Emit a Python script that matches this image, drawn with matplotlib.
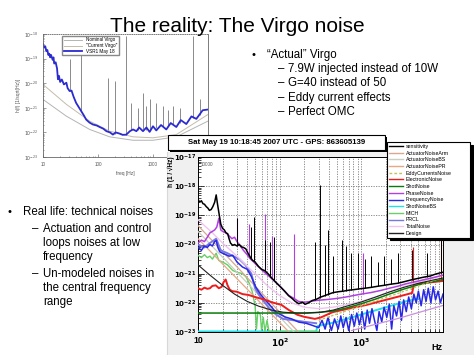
import numpy as np
import matplotlib
matplotlib.use("Agg")
import matplotlib.pyplot as plt
from matplotlib.lines import Line2D
from matplotlib.patches import Rectangle

plt.rcParams['font.family'] = ['Liberation Sans', 'DejaVu Sans']

W, H = 474, 355

# ---------------- small plot (top left), values as (freq Hz, log10 h)
small_nominal = [(10, -20.66), (26.6, -21.34), (70.5, -21.88), (163, -22.18),
                 (433, -22.32), (1000, -22.32), (2656, -22.18), (10000, -21.54)]
small_current = [(10, -20.05), (26.6, -20.86), (70.5, -21.54), (163, -21.95),
                 (433, -22.18), (1000, -22.22), (2656, -22.09), (10000, -21.27)]
small_vsr1 = [(10, -18.4), (10.5, -18.55), (11, -18.5), (11.5, -18.7), (12, -18.65),
              (12.5, -18.85), (13, -18.8), (13.5, -18.95), (14, -18.85), (15, -19.05),
              (15.5, -18.95), (16, -19.2), (17, -19.15), (18, -19.4), (18.7, -19.84),
              (19.5, -19.7), (20.5, -19.95), (22, -19.85), (24, -20.05), (26.6, -19.98),
              (28, -20.2), (30.5, -20.32), (33, -20.3), (36, -20.55), (40, -20.8),
              (44, -20.95), (50, -21.15), (55, -21.3), (61, -21.48), (70, -21.6),
              (81, -21.68), (95, -21.72), (107, -21.78), (125, -21.85), (142, -21.95),
              (165, -22.0), (187, -22.09), (210, -22.0), (248, -22.05), (280, -22.1),
              (327, -22.09), (380, -21.95), (433, -21.88), (500, -21.95), (560, -21.8),
              (658, -21.95), (760, -21.8), (869, -21.98), (1000, -21.75), (1148, -21.92),
              (1400, -21.7), (1746, -21.88), (2100, -21.62), (2656, -21.78), (3200, -21.5),
              (4035, -21.66), (5000, -21.35), (6136, -21.45), (8000, -21.1), (10000, -21.07)]
small_spikes = [(31, -19.03, -20.3), (50, -18.6, -21.15), (152, -19.78, -21.9),
                (201, -19.9, -22.05), (318, -18.1, -22.09), (404, -20.8, -21.92),
                (533, -21.0, -21.9), (658, -20.39, -21.86), (757, -20.93, -21.9),
                (869, -20.66, -21.9), (1150, -20.8, -21.82), (1520, -20.93, -21.8),
                (1875, -21.07, -21.75), (2310, -20.93, -21.7), (3055, -21.0, -21.6),
                (5335, -18.1, -21.4), (7050, -20.66, -21.28)]

# ---------------- big plot (VSR1 noise budget), values as (freq Hz, log10 h)
sensitivity = [(10, -18.45), (10.5, -18.55), (11, -18.5), (11.5, -18.6), (12, -18.62),
               (12.6, -18.7), (13.2, -18.75), (13.8, -18.83), (14.5, -18.8), (15.2, -18.7),
               (16, -18.55), (16.7, -18.3), (17.3, -18.6), (18, -18.9), (19, -19.3),
               (20, -19.45), (21, -19.5), (22, -19.6), (23.1, -19.63), (24, -19.8),
               (25, -19.95), (26.6, -20.03), (28, -20.0), (30, -20.05), (32, -20.0),
               (34, -20.08), (36, -20.1), (38.5, -20.15), (41, -20.3), (44, -20.45),
               (46.4, -20.54), (50, -20.6), (55, -20.75), (60, -20.85), (66, -20.9),
               (72, -21.0), (80, -21.15), (90, -21.3), (102, -21.45), (115, -21.6),
               (128, -21.75), (142, -21.85), (155, -21.95), (171, -22.03), (190, -21.98),
               (205, -22.05), (226, -22.0), (250, -21.92), (280, -21.88), (320, -21.8),
               (360, -21.75), (400, -21.7), (450, -21.65), (520, -21.62), (600, -21.6),
               (690, -21.57), (800, -21.55), (950, -21.52), (1100, -21.5), (1320, -21.47),
               (1600, -21.43), (1900, -21.4), (2300, -21.36), (2780, -21.33), (3300, -21.28),
               (4000, -21.22), (4800, -21.17), (5800, -21.12), (7000, -21.08), (8000, -21.02),
               (9300, -20.97), (10000, -20.95)]
sensitivity_spikes = [(30, -19.1, -20.05), (44, -19.4, -20.45), (48.6, -19.06, -20.55),
                      (67, -19.86, -20.9), (77, -19.9, -21.1), (85, -19.75, -21.2),
                      (272, -19.9, -21.9), (313, -17.97, -21.85), (359, -20.0, -21.78),
                      (394, -19.5, -21.72), (454, -20.4, -21.65), (572, -19.85, -21.6),
                      (658, -20.05, -21.58), (756, -20.3, -21.56), (912, -20.3, -21.53),
                      (1097, -20.5, -21.5), (1321, -20.4, -21.47), (1592, -20.6, -21.43),
                      (1918, -20.4, -21.4), (2311, -20.5, -21.36), (2783, -20.3, -21.33),
                      (4227, -20.2, -21.22), (6428, -20.3, -21.12), (9330, -17.0, -20.97)]
design = [(10, -20.7), (14, -21.05), (20, -21.4), (28, -21.7), (40, -21.95), (56, -22.12),
          (80, -22.25), (110, -22.32), (160, -22.35), (220, -22.35), (320, -22.32),
          (450, -22.25), (650, -22.12), (1000, -21.97), (1500, -21.8), (2200, -21.63),
          (3300, -21.47), (5000, -21.33), (7500, -21.22), (10000, -21.15)]
shot = [(10, -22.35), (200, -22.35), (300, -22.33), (450, -22.28), (650, -22.18),
        (1000, -22.03), (1500, -21.87), (2200, -21.7), (3300, -21.53), (5000, -21.38),
        (7500, -21.27), (10000, -21.2)]
shot_bs = [(10, -22.98), (280, -22.98), (290, -22.8), (500, -22.65), (1000, -22.4),
           (2000, -22.15), (3500, -21.95), (5100, -21.84)]
electronic = [(10, -21.5), (11, -21.55), (12, -21.48), (13, -21.52), (14, -21.5),
              (15, -21.42), (16.5, -21.4), (18, -21.5), (19.5, -21.45), (20.5, -21.3),
              (21.8, -21.2), (23, -21.4), (24.5, -21.55), (26.3, -21.6), (30, -21.62),
              (35, -21.7), (41.5, -21.73), (50, -21.8), (58, -21.85), (67, -21.9),
              (80, -21.98), (105, -22.07), (130, -22.25), (165, -22.41), (200, -22.48),
              (270, -22.55), (320, -22.5), (445, -22.32), (700, -22.2), (1160, -22.07),
              (1800, -21.93), (2900, -21.78), (4200, -21.66), (4400, -21.35), (6000, -21.32),
              (8000, -21.28), (10000, -21.25)]
electronic_spikes = [(4300, -20.1, -21.5), (9500, -17.0, -21.25)]
frequency = [(10, -20.09), (11, -20.2), (12, -20.05), (13, -20.1), (14, -20.0), (15, -20.05),
             (16, -19.9), (16.7, -19.86), (17.5, -20.1), (18.5, -20.25), (20, -20.3),
             (22, -20.35), (24, -20.4), (26.6, -20.37), (30, -20.6), (35, -20.77), (40, -20.85),
             (45, -21.1), (51, -21.46), (58, -21.7), (67, -21.91), (80, -22.15), (89, -22.31),
             (102, -22.4), (118, -22.49), (140, -22.55), (171, -22.66), (210, -22.7),
             (250, -22.77), (300, -22.85), (330, -22.6), (360, -22.9), (390, -22.5),
             (430, -22.95), (470, -22.55), (520, -22.9), (560, -22.45), (600, -22.85),
             (650, -22.5), (700, -22.95), (760, -22.4), (820, -22.8), (880, -22.35),
             (950, -22.75), (1020, -22.3), (1100, -22.9), (1180, -22.25), (1260, -22.7),
             (1350, -22.2), (1450, -22.6), (1550, -22.95), (1650, -22.3), (1780, -22.65),
             (1900, -22.15), (2050, -22.5), (2200, -22.05), (2350, -22.9), (2500, -22.1),
             (2700, -22.45), (2900, -21.95), (3100, -22.6), (3300, -21.9), (3550, -22.3),
             (3800, -21.8), (4100, -22.2), (4400, -21.7), (4700, -22.0), (5000, -21.6),
             (5400, -22.1), (5800, -21.55), (6200, -21.95), (6600, -21.5), (7100, -22.0),
             (7600, -21.45), (8100, -21.9), (8700, -21.6), (9300, -22.0), (10000, -21.7)]
prcl = [(10, -20.0), (12, -20.1), (14, -19.95), (16.7, -19.8), (19, -20.2), (23, -20.3),
        (27, -20.4), (32, -20.5), (38, -20.7), (45, -21.0), (50, -21.5), (55, -21.7),
        (62, -21.9), (75, -22.2), (90, -22.4), (110, -22.55), (150, -22.6), (200, -22.65),
        (280, -22.7)]
mich = [(10, -20.37), (11, -20.45), (12, -20.35), (13, -20.45), (14, -20.4), (15, -20.5),
        (16.7, -20.3), (18, -20.55), (20, -20.6), (23, -20.7), (26.6, -20.89), (30, -20.95),
        (35, -21.0), (38.5, -21.1), (42, -21.3), (46, -21.6), (50, -22.1), (52, -22.9),
        (54, -22.3), (58, -22.4), (60, -22.95), (63, -22.5), (66, -22.98), (70, -22.6),
        (74, -22.98), (300, -22.98)]
phase = [(10, -19.95), (11, -19.85), (12, -19.9), (13, -19.75), (14, -19.6), (15, -19.55),
         (16, -19.5), (17, -19.4), (18, -19.1), (19, -19.5), (20, -19.55), (22, -19.6),
         (24, -19.7), (26, -19.8), (28, -19.75), (30, -19.9), (33, -20.05), (36, -20.2),
         (40, -20.35), (44, -20.5), (48, -20.6), (52, -20.7), (57, -20.8), (62, -20.9),
         (68, -21.0), (75, -21.1), (82, -21.2), (90, -21.3), (100, -21.42), (115, -21.6),
         (130, -21.75), (150, -21.85), (170, -21.95), (200, -21.98), (240, -21.95),
         (280, -21.92), (330, -21.9), (400, -21.88), (500, -21.85), (650, -21.8),
         (800, -21.75), (1000, -21.7), (1300, -21.65), (1700, -21.58), (2200, -21.5),
         (2800, -21.43), (3500, -21.35), (4500, -21.28), (6000, -21.2), (8000, -21.12),
         (10000, -21.05)]
phase_spikes = [(30, -19.1, -19.9), (42, -19.3, -20.45), (67, -18.94, -21.0),
                (80, -19.7, -21.15), (149, -19.63, -21.85), (1050, -20.3, -21.7)]
total = [(10, -19.15), (15, -19.6), (20, -19.95), (30, -20.4), (40, -20.75), (50, -21.0),
         (70, -21.4), (100, -21.75), (140, -22.0), (200, -22.15), (300, -22.2), (450, -22.15),
         (700, -22.05), (1000, -21.95), (1500, -21.8), (2200, -21.62), (3300, -21.45),
         (5000, -21.3), (7500, -21.15), (10000, -21.05)]
lower_violet = [(760, -22.95), (2780, -22.54), (10000, -22.09)]
act_arm = [(10, -19.35), (170, -23.0)]
act_bs = [(10, -19.55), (150, -23.0)]
act_pr = [(10, -19.8), (130, -23.0)]
eddy = [(300, -22.6), (1000, -22.1), (3000, -21.65), (10000, -21.12)]

legend_names = ['sensitivity', 'ActuatorNoiseArm', 'ActuatorNoiseBS', 'ActuatorNoisePR',
                'EddyCurrentsNoise', 'ElectronicNoise', 'ShotNoise', 'PhaseNoise',
                'FrequencyNoise', 'ShotNoiseBS', 'MICH', 'PRCL', 'TotalNoise', 'Design']
legend_colors = ['black', '#d8a890', '#c8d0c0', '#e6a884', '#c8c058', '#ee1c1c', '#0a7a0a',
                 '#b040e0', '#2828e8', '#20e0e8', '#66d066', '#7878e0', '#f0c4f0', '#202020']


def box(x0, y0, x1, y1):
    return [x0 / W, 1 - y1 / H, (x1 - x0) / W, (y1 - y0) / H]


def px(x, y):
    return x / W, 1 - y / H


def xy(series):
    a = np.array(series, dtype=float)
    return a[:, 0], 10 ** a[:, 1]


def spikes(ax, series, color, lw=0.7, z=2):
    a = np.array(series, dtype=float)
    ax.vlines(a[:, 0], 10 ** a[:, 2], 10 ** a[:, 1], color=color, lw=lw, zorder=z)


fig = plt.figure(figsize=(W / 100, H / 100), dpi=100)

# ---------------- slide text
fig.text(*px(237, 32), "The reality: The Virgo noise", fontsize=15, ha='center', va='baseline')
fig.text(*px(252, 55), "\u2022", fontsize=8, va='center')
fig.text(*px(267, 55), "\u201cActual\u201d Virgo", fontsize=8.3, va='center')
right_items = ["7.9W injected instead of 10W", "G=40 instead of 50",
               "Eddy current effects", "Perfect OMC"]
for i, s in enumerate(right_items):
    y = 69 + i * 14.3
    fig.text(*px(278, y), "\u2013", fontsize=8.3, va='center')
    fig.text(*px(288, y), s, fontsize=8.3, va='center')

fig.text(*px(8, 212), "\u2022", fontsize=8, va='center', zorder=-1)
fig.text(*px(23, 212), "Real life: technical noises", fontsize=8.3, va='center', zorder=-1)
left_items = [(229, "\u2013", "Actuation and control"), (243, "", "loops noises at low"),
              (257, "", "frequency"), (274, "\u2013", "Un-modeled noises in"),
              (288, "", "the central frequency"), (302, "", "range")]
for y, d, s in left_items:
    if d:
        fig.text(*px(32, y), d, fontsize=8.3, va='center')
    fig.text(*px(43, y), s, fontsize=8.3, va='center')

# ---------------- small plot
sax = fig.add_axes(box(43, 34, 208, 157), zorder=0)
sax.set_xscale('log')
sax.set_yscale('log')
f, h = xy(small_nominal)
sax.plot(f, h, color='#b4b4b4', lw=0.7, label='Nominal Virgo')
f, h = xy(small_current)
sax.plot(f, h, color='#c4bca8', lw=0.7, label='"Current Virgo"')
spikes(sax, small_spikes, '#8a8a8a', lw=0.7)
f, h = xy(small_vsr1)
sax.plot(f, h, color='#2b2bd0', lw=1.3, label='VSR1 May 18')
sax.set_xlim(10, 10000)
sax.set_ylim(1e-23, 1e-18)
sax.tick_params(which='both', direction='in', labelsize=3.3, colors='#555555', length=2, width=0.4)
sax.tick_params(which='minor', length=1)
for s in sax.spines.values():
    s.set_linewidth(0.6)
    s.set_color('#666666')
sax.spines['top'].set_linestyle(':')
sax.set_xticks([10, 100, 1000, 10000])
sax.set_xticklabels(['10', '100', '1000', '10000'])
sy = [-23, -22, -21, -20, -19, -18]
sax.set_yticks([10.0 ** e for e in sy])
sax.set_yticklabels([r'$10^{%d}$' % e for e in sy])
sax.set_xlabel('freq [Hz]', fontsize=3.5, color='#555555', labelpad=3)
sax.set_ylabel('h(f) [1/sqrt(Hz)]', fontsize=3.5, color='#555555', labelpad=2)
sax.legend(loc='upper left', bbox_to_anchor=(0.115, 0.985), fontsize=3.3, handlelength=4,
           borderaxespad=0, fancybox=False, edgecolor='#888888', framealpha=1,
           labelspacing=0.15, borderpad=0.35)

# ---------------- big plot background panel
pax = fig.add_axes(box(167, 152, 474, 355), zorder=1)
pax.set_facecolor('#f0f0f0')
pax.set_xticks([])
pax.set_yticks([])
for s in pax.spines.values():
    s.set_visible(False)
pax.spines['left'].set_visible(True)
pax.spines['left'].set_color('#d8d8d8')

ax = fig.add_axes(box(198, 157, 443, 332), zorder=2)
ax.set_xscale('log')
ax.set_yscale('log')
ax.set_xlim(10, 10000)
ax.set_ylim(1e-23, 1e-17)
ax.grid(True, which='both', axis='x', ls=(0, (2, 2)), color='#505050', lw=0.45)
ax.grid(True, which='major', axis='y', ls=(0, (2, 2)), color='#505050', lw=0.45)

c = dict(zip(legend_names, legend_colors))
f, h = xy(shot_bs)
ax.plot(f, h, color=c['ShotNoiseBS'], lw=1.4, zorder=3)
f, h = xy(mich)
ax.plot(f, h, color=c['MICH'], lw=1.0, zorder=3)
for name, ser in [('ActuatorNoiseArm', act_arm), ('ActuatorNoiseBS', act_bs),
                  ('ActuatorNoisePR', act_pr)]:
    f, h = xy(ser)
    ax.plot(f, h, color=c[name], lw=0.9, zorder=3)
f, h = xy(prcl)
ax.plot(f, h, color=c['PRCL'], lw=1.4, zorder=3)
f, h = xy(frequency)
ax.plot(f, h, color=c['FrequencyNoise'], lw=1.1, zorder=3)
f, h = xy(lower_violet)
ax.plot(f, h, color='#c890e0', lw=0.9, zorder=3)
f, h = xy(electronic)
ax.plot(f, h, color=c['ElectronicNoise'], lw=1.4, zorder=4)
spikes(ax, electronic_spikes, c['ElectronicNoise'], lw=0.8, z=4)
f, h = xy(shot)
ax.plot(f, h, color=c['ShotNoise'], lw=1.1, zorder=4)
f, h = xy(eddy)
ax.plot(f, h, color=c['EddyCurrentsNoise'], lw=0.9, ls=(0, (2, 1.5)), zorder=4)
f, h = xy(design)
ax.plot(f, h, color=c['Design'], lw=0.8, zorder=5)
f, h = xy(total)
ax.plot(f, h, color=c['TotalNoise'], lw=1.0, zorder=4)
f, h = xy(phase)
ax.plot(f, h, color=c['PhaseNoise'], lw=1.1, zorder=4)
spikes(ax, phase_spikes, c['PhaseNoise'], lw=0.8, z=4)
f, h = xy(sensitivity)
ax.plot(f, h, color=c['sensitivity'], lw=1.1, zorder=6)
spikes(ax, sensitivity_spikes, c['sensitivity'], lw=0.7, z=6)

ax.tick_params(which='both', direction='in', top=False, right=False, width=0.5)
ax.tick_params(axis='y', pad=1.2)
ax.tick_params(axis='x', pad=3)
ax.tick_params(which='major', length=4)
ax.tick_params(which='minor', length=2)
ax.set_xticks([10, 100, 1000])
ax.set_xticklabels(['10', r'$\mathbf{10^2}$', r'$\mathbf{10^3}$'], fontsize=6.3, fontweight='bold')
yt = [-23, -22, -21, -20, -19, -18, -17]
ax.set_yticks([10.0 ** e for e in yt])
ax.set_yticklabels([r'$\mathbf{10^{%d}}$' % e for e in yt], fontsize=5.0)
for s in ax.spines.values():
    s.set_linewidth(0.7)

fig.text(*px(437, 347), 'Hz', fontsize=6.5, fontweight='bold', ha='center', va='center', zorder=6)
fig.text(*px(171, 172), 'h (1 / \u221aHz)', fontsize=4.7, fontweight='bold', rotation=90,
         ha='center', va='center', zorder=6)
fig.text(*px(207, 164), '10000', fontsize=3.3, color='#555555', ha='center', va='center', zorder=6)

# header box with ROOT-like shadow
fig.patches.append(Rectangle(px(170, 152), 217 / W, 15 / H, transform=fig.transFigure,
                             facecolor='black', edgecolor='none', zorder=5))
fig.patches.append(Rectangle(px(168, 150), 217 / W, 15 / H, transform=fig.transFigure,
                             facecolor='white', edgecolor='black', lw=0.8, zorder=5))
fig.text(*px(276.5, 142.7), 'Sat May 19 10:18:45 2007 UTC - GPS: 863605139',
         fontsize=5.6, fontweight='bold', ha='center', va='center', zorder=6)

handles = [Line2D([], [], color=col, lw=1.0, ls=(0, (2, 1.5)) if n == 'EddyCurrentsNoise' else '-')
           for n, col in zip(legend_names, legend_colors)]
leg = fig.legend(handles, legend_names, loc='upper left',
                 bbox_to_anchor=(387 / W, 1 - 243 / H, 83 / W, 101 / H), mode='expand',
                 fontsize=3.8, labelspacing=0.32, handlelength=2.6, handletextpad=0.6,
                 borderaxespad=0, borderpad=0.35, fancybox=False, edgecolor='black',
                 framealpha=1, shadow={'color': 'black', 'alpha': 1})
leg.set_zorder(7)
leg.get_frame().set_linewidth(0.8)

fig.savefig('out.png', dpi=100)
